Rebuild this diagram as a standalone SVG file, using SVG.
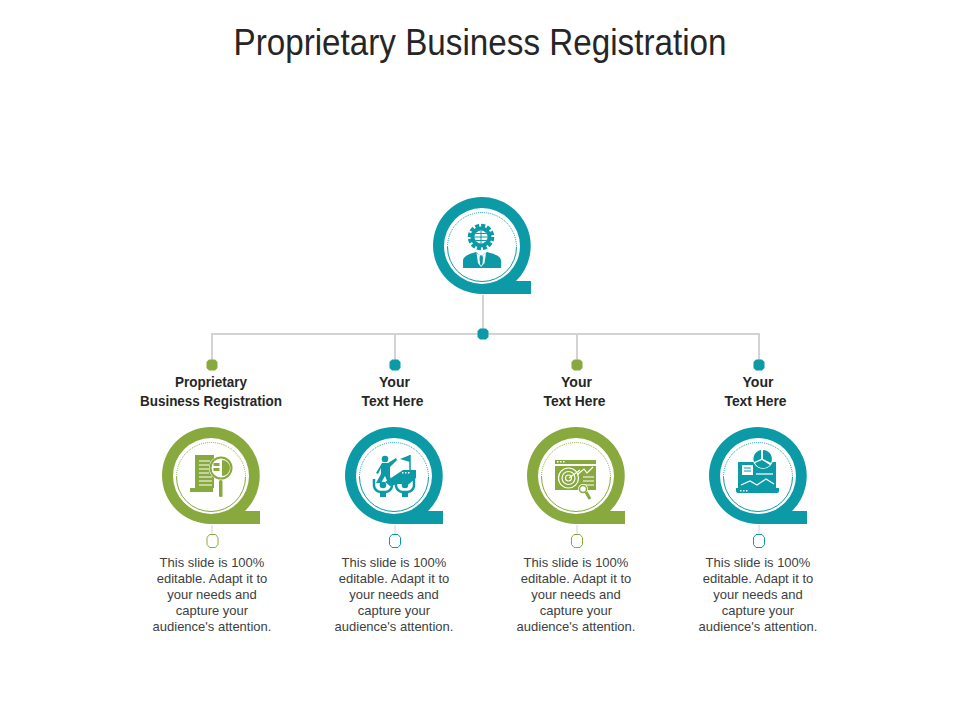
<svg xmlns="http://www.w3.org/2000/svg" width="960" height="720" viewBox="0 0 960 720">
<style>
text{font-family:"Liberation Sans",Arial,sans-serif;text-anchor:middle}
.title{font-size:36px;fill:#262626}
.lab{font-size:14px;font-weight:bold;fill:#262626}
.body{font-size:13px;fill:#404040}
.conn{fill:none;stroke:#d3d3d3;stroke-width:2}
.thin{fill:none;stroke:#d3d3d3;stroke-width:1}
.g{fill:#87a93d}.t{fill:#0c9aa6}
.w{fill:#fff}.ws{fill:none;stroke:#fff;stroke-width:1.200}
.sg{stroke:#87a93d;fill:none}.st{stroke:#0c9aa6;fill:none}
.hex{fill:#fff;stroke-width:1}
</style>
<defs>
<path id="ring" fill-rule="evenodd" d="M0-49A49 49 0 0 1 34 35H49V48H0A49 48.500 0 0 1 0-49ZM0-38A38 38 0 1 0 0 38A38 38 0 1 0 0-38Z"/>
<path id="oct" d="M-3-5.500H3L5.500-3V3L3 5.500H-3L-5.500 3V-3Z"/>
<path id="hexo" d="M-3-6.500H3L5.500-3.500V3.500L3 6.500H-3L-5.500 3.500V-3.500Z"/>
<path id="half" d="M-34.500 0A34.500 34.500 0 0 0 34.500 0"/>
<path id="halft" d="M-34.500 0A34.500 34.500 0 0 1 34.500 0"/>
</defs>
<text class="title" x="480" y="55" textLength="493" lengthAdjust="spacingAndGlyphs">Proprietary Business Registration</text>
<g id="connectors">
<path class="conn" d="M483 295V334M212 361V334H759V361M395 334V361M577 334V361"/>
<path class="thin" d="M212 525V535M395 525V535M577 525V535M759 525V535"/>
</g>
<g id="hub-dot"><use href="#oct" x="483" y="334" class="t"/></g>
<g id="node-center">
<use href="#ring" x="482" y="246" class="t"/>
<use href="#half" x="482" y="247" class="st" stroke-width="1"/>
<use href="#halft" x="482" y="247" class="st" stroke-width="1" stroke-dasharray="1 1"/>
<circle cx="481" cy="237" r="10.500" class="t"/>
<circle cx="481" cy="237" r="11.500" fill="none" stroke="#0c9aa6" stroke-width="3.500" stroke-dasharray="4 2"/>
<circle cx="481" cy="237" r="6.500" class="w"/>
<path class="st" stroke-width="1" d="M474.500 237H487.500M481 230.500V243.500M475.500 233.500H486.500M475.500 240.500H486.500"/>
<path class="t" d="M463 268V260Q464 255 476 252L481 256L487 252Q500 255 501 260V268Z"/>
<path class="w" d="M476.500 253L481 256L486 253L484.500 263L481 267L478 263Z"/>
<path class="t" d="M480 255.500H482.500L483 258L482.500 264L481 266L480 264L479.500 258Z"/>
</g>
<g id="node-1">
<use href="#ring" x="211" y="476" class="g"/>
<use href="#half" x="211" y="477" class="sg" stroke-width="1"/>
<use href="#halft" x="211" y="477" class="sg" stroke-width="1" stroke-dasharray="1 1"/>
<path class="g" d="M195 455H214V488H213V492H190V488H195Z"/>
<path class="ws" d="M199 461H210M199 465H209M199 469H209M199 473H209M199 477H212M199 481H212M199 485H212"/>
<circle cx="221" cy="468" r="12" class="w"/>
<circle cx="221" cy="468" r="10.500" fill="none" stroke="#87a93d" stroke-width="2"/>
<path class="g" d="M222 460A8 8 0 0 1 222 476ZM213.500 463H219.500V466H213.500ZM213.500 468H219.500V471H213.500Z"/>
<rect x="219" y="480" width="3.500" height="17" rx="1.500" class="g"/>
<use href="#oct" x="212" y="365" class="g"/>
<use href="#hexo" x="212.500" y="541" class="hex sg"/>
<text class="lab" x="211" y="387" textLength="72" lengthAdjust="spacingAndGlyphs">Proprietary</text>
<text class="lab" x="211" y="406" textLength="142" lengthAdjust="spacingAndGlyphs">Business Registration</text>
<text class="body"><tspan x="212" y="567">This slide is 100%</tspan><tspan x="212" y="583">editable. Adapt it to</tspan><tspan x="212" y="599">your needs and</tspan><tspan x="212" y="615">capture your</tspan><tspan x="212" y="631">audience's attention.</tspan></text>
</g>
<g id="node-2">
<use href="#ring" x="394" y="476" class="t"/>
<use href="#half" x="394" y="477" class="st" stroke-width="1"/>
<use href="#halft" x="394" y="477" class="st" stroke-width="1" stroke-dasharray="1 1"/>
<circle cx="385" cy="459" r="3.300" class="t"/>
<path class="t" d="M382 463H388L396 458L397 460L390 467V476L392 483H388L385 476L381 483H376L381 474V468L378 474L376 473Z"/>
<path class="st" stroke-width="1.500" d="M410 470V455"/>
<path class="t" d="M410 455V462L400 459Z"/>
<path class="t" d="M385 482L403 470H416V478L409 484H398L390 486Z"/>
<g fill="#fff"><rect x="402" y="472" width="1.500" height="1.500"/><rect x="405" y="472" width="1.500" height="1.500"/><rect x="408" y="472" width="1.500" height="1.500"/></g>
<circle cx="383" cy="485" r="3.300" class="t"/><circle cx="405" cy="485" r="3.300" class="t"/>
<path class="st" stroke-width="2.500" d="M374 479V486Q375 491 380 492H386Q391 491 392 486V481M396 481V486Q397 491 402 492H408Q413 491 414 486V479"/>
<rect x="380" y="491" width="6" height="6" class="t"/><rect x="402" y="491" width="6" height="6" class="t"/>
<use href="#oct" x="395" y="365" class="t"/>
<use href="#hexo" x="395" y="541" class="hex st"/>
<text class="lab" x="394.500" y="387" textLength="31" lengthAdjust="spacingAndGlyphs">Your</text>
<text class="lab" x="392.500" y="406" textLength="62" lengthAdjust="spacingAndGlyphs">Text Here</text>
<text class="body"><tspan x="394" y="567">This slide is 100%</tspan><tspan x="394" y="583">editable. Adapt it to</tspan><tspan x="394" y="599">your needs and</tspan><tspan x="394" y="615">capture your</tspan><tspan x="394" y="631">audience's attention.</tspan></text>
</g>
<g id="node-3">
<use href="#ring" x="576" y="476" class="g"/>
<use href="#half" x="576" y="477" class="sg" stroke-width="1"/>
<use href="#halft" x="576" y="477" class="sg" stroke-width="1" stroke-dasharray="1 1"/>
<rect x="555" y="460" width="41" height="4" class="g"/>
<path class="w" d="M557 461h1.500v1.500h-1.500zM560 461h1.500v1.500h-1.500zM563 461h1.500v1.500h-1.500z"/>
<rect x="555" y="466" width="41" height="24" class="g"/>
<circle cx="568.500" cy="478" r="10" class="ws"/>
<circle cx="568.500" cy="478" r="6.500" class="ws"/>
<circle cx="568.500" cy="478" r="3" class="ws"/>
<path class="ws" d="M569 478L580 470M578 474L584 469L587 473L593 467"/>
<path class="ws" stroke-width="1.500" d="M583 477H594M583 481H594M583 485H594"/>
<circle cx="583" cy="489" r="5" class="w"/>
<circle cx="583" cy="489" r="3.500" fill="none" stroke="#87a93d" stroke-width="1.500"/>
<path class="sg" stroke-width="3" d="M586 492L590 499"/>
<use href="#oct" x="577" y="365" class="g"/>
<use href="#hexo" x="577" y="541" class="hex sg"/>
<text class="lab" x="576.500" y="387" textLength="31" lengthAdjust="spacingAndGlyphs">Your</text>
<text class="lab" x="574.500" y="406" textLength="62" lengthAdjust="spacingAndGlyphs">Text Here</text>
<text class="body"><tspan x="576" y="567">This slide is 100%</tspan><tspan x="576" y="583">editable. Adapt it to</tspan><tspan x="576" y="599">your needs and</tspan><tspan x="576" y="615">capture your</tspan><tspan x="576" y="631">audience's attention.</tspan></text>
</g>
<g id="node-4">
<use href="#ring" x="758" y="476" class="t"/>
<use href="#half" x="758" y="477" class="st" stroke-width="1"/>
<use href="#halft" x="758" y="477" class="st" stroke-width="1" stroke-dasharray="1 1"/>
<rect x="738" y="462" width="38" height="27" class="t"/>
<rect x="742" y="465" width="11" height="10" class="w"/>
<path class="st" stroke-width="1" d="M744 468H751M744 471H751"/>
<path class="ws" d="M756 474H773"/>
<path class="ws" stroke-width="1.500" d="M741 485L750 481L757 485L766 479L774 484"/>
<path class="t" d="M736 488H779V491Q779 493 777 493H738Q736 493 736 491Z"/>
<path class="w" d="M740 490h1.500v1.500h-1.500zM743 490h1.500v1.500h-1.500zM746 490h1.500v1.500h-1.500z"/>
<circle cx="763" cy="459" r="10" class="w"/>
<path class="t" d="M763 459V450A9 9 0 0 1 771 463ZM762 460L770 465A9 9 0 0 1 755 463ZM761 459L754 462A9 9 0 0 1 761 450Z"/>
<use href="#oct" x="759" y="365" class="t"/>
<use href="#hexo" x="759" y="541" class="hex st"/>
<text class="lab" x="758" y="387" textLength="31" lengthAdjust="spacingAndGlyphs">Your</text>
<text class="lab" x="755.500" y="406" textLength="62" lengthAdjust="spacingAndGlyphs">Text Here</text>
<text class="body"><tspan x="758" y="567">This slide is 100%</tspan><tspan x="758" y="583">editable. Adapt it to</tspan><tspan x="758" y="599">your needs and</tspan><tspan x="758" y="615">capture your</tspan><tspan x="758" y="631">audience's attention.</tspan></text>
</g>
</svg>
